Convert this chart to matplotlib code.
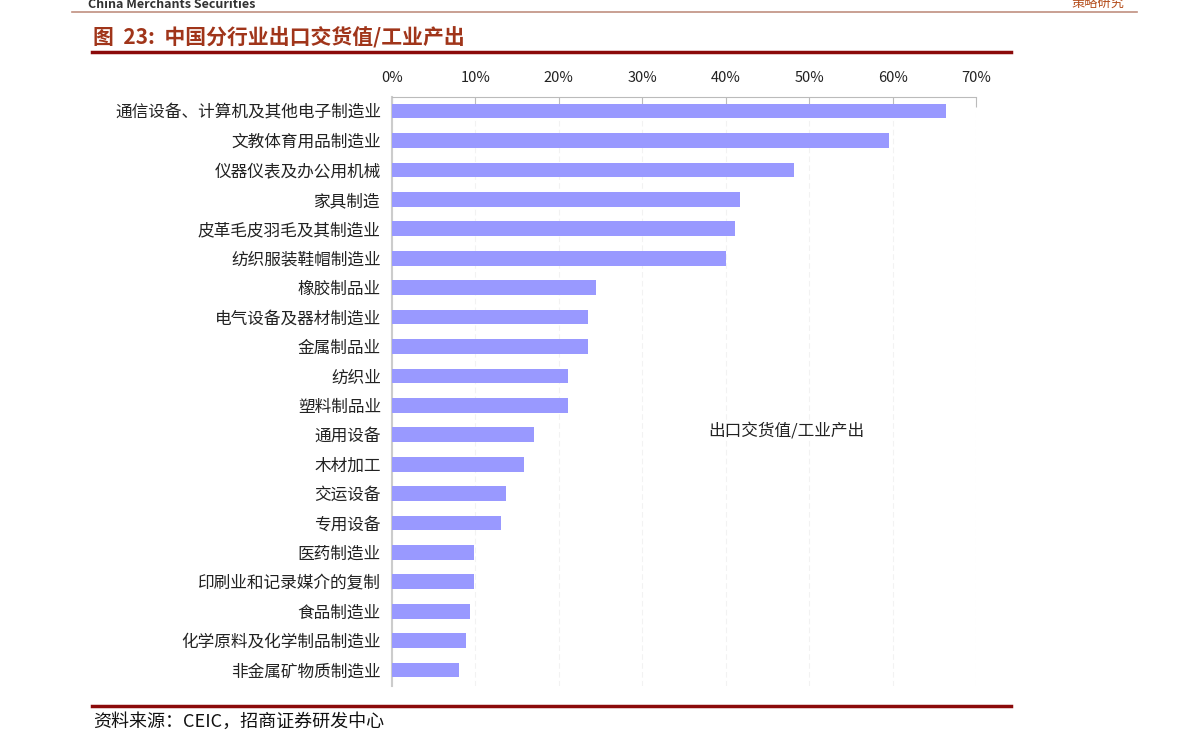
import matplotlib
matplotlib.use("Agg")
import matplotlib.pyplot as plt
from matplotlib.ticker import FuncFormatter

plt.rcParams['font.family'] = ['Noto Sans CJK SC', 'DejaVu Sans']

categories = ["通信设备、计算机及其他电子制造业", "文教体育用品制造业", "仪器仪表及办公用机械",
              "家具制造", "皮革毛皮羽毛及其制造业", "纺织服装鞋帽制造业", "橡胶制品业",
              "电气设备及器材制造业", "金属制品业", "纺织业", "塑料制品业", "通用设备",
              "木材加工", "交运设备", "专用设备", "医药制造业", "印刷业和记录媒介的复制",
              "食品制造业", "化学原料及化学制品制造业", "非金属矿物质制造业"]
values = [66.4, 59.6, 48.2, 41.7, 41.1, 40.0, 24.5, 23.5, 23.5, 21.1, 21.1, 17.0,
          15.8, 13.7, 13.1, 9.8, 9.8, 9.3, 8.9, 8.0]
xticks = [0, 10, 20, 30, 40, 50, 60, 70]
series_name = "出口交货值/工业产出"

W, H = 1190, 754
fig = plt.figure(figsize=(W / 100, H / 100), dpi=100)

ax = fig.add_axes([392 / W, 1 - 686 / H, (976 - 392) / W, (686 - 97) / H])
y = list(range(len(categories)))
ax.barh(y, values, height=0.5, color="#9999FF", zorder=3)
ax.set_ylim(len(categories) - 0.46, -0.48)
ax.set_xlim(0, 70)
ax.set_yticks(y)
ax.set_yticklabels(categories, fontsize=12, color="#222222")
ax.set_xticks(xticks)
ax.xaxis.set_major_formatter(FuncFormatter(lambda v, p: f"{v:.0f}%"))
ax.xaxis.tick_top()
ax.tick_params(axis='x', direction='in', length=7, color="#BBBBBB", labelsize=10.5,
               labelcolor="#222222", pad=9)
ax.tick_params(axis='y', direction='in', length=5, color="#BBBBBB", pad=8)
for s in ['right', 'bottom']:
    ax.spines[s].set_visible(False)
ax.spines['top'].set_color("#BBBBBB")
ax.spines['left'].set_color("#CCCCCC")
ax.spines['left'].set_linewidth(1.5)
ax.grid(axis='x', color="#F2F2F2", linestyle=(0, (5, 3)), linewidth=0.8, zorder=0)
ax.text(0.541, 0.433, series_name, transform=ax.transAxes, fontsize=12, color="#222222",
        va='center', ha='left')

# header
fig.text(88 / W, 1 - 11 / H, "China Merchants Securities", fontsize=9, fontweight='bold',
         color="#333333", va='bottom', ha='left')
fig.text(1125 / W, 1 - 11 / H, "策略研究", fontsize=9.5, color="#B5501F", va='bottom', ha='right')
fig.add_artist(plt.Line2D([72 / W, 1137 / W], [1 - 12 / H, 1 - 12 / H], color="#C09080", lw=1.2))
fig.text(93 / W, 1 - 38 / H, "图  23:  中国分行业出口交货值/工业产出", fontsize=15,
         color="#A0351A", va='center', ha='left', fontweight='bold')
fig.add_artist(plt.Line2D([92 / W, 1011 / W], [1 - 52 / H, 1 - 52 / H], color="#8B0A0A", lw=2.5))
fig.add_artist(plt.Line2D([92 / W, 1011 / W], [1 - 706 / H, 1 - 706 / H], color="#8B0A0A", lw=2.5))
fig.text(93 / W, 1 - 722 / H, "资料来源：CEIC，招商证券研发中心", fontsize=13, color="#111111",
         va='center', ha='left')

fig.savefig("out.png", dpi=100)
